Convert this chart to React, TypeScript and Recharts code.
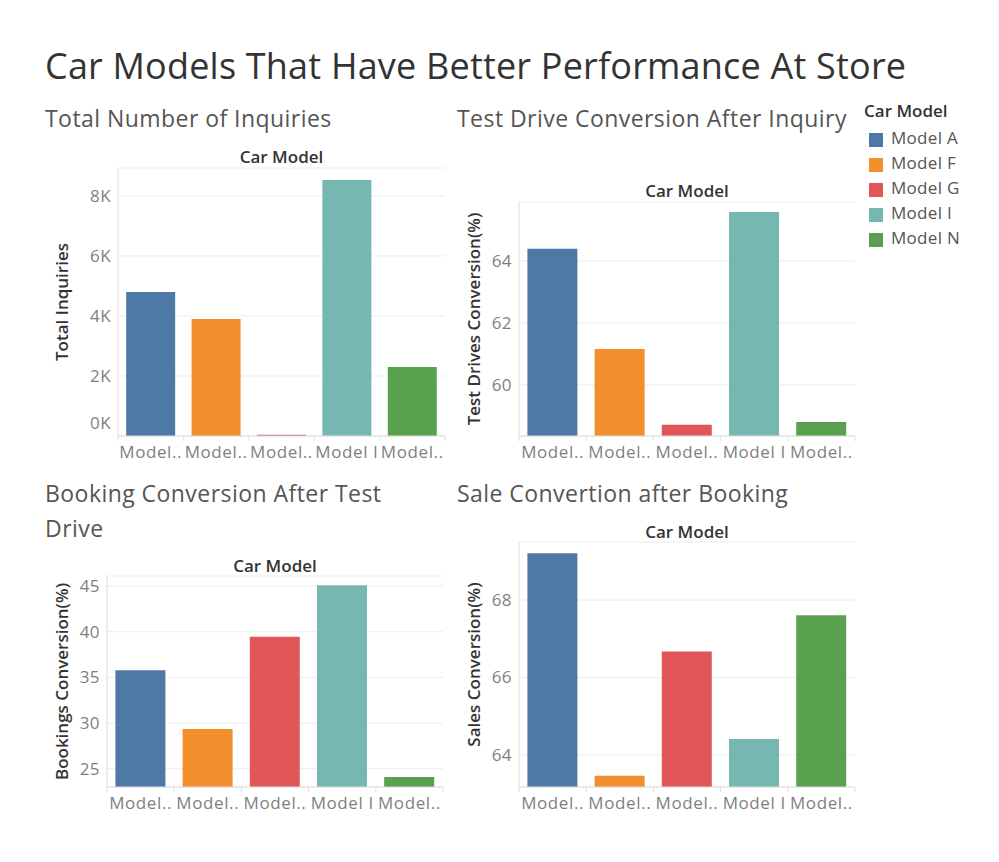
import React from 'react';
import { BarChart, Bar, XAxis, YAxis, CartesianGrid, Cell } from 'recharts';

const carModels = ['Model A', 'Model F', 'Model G', 'Model I', 'Model N'];
const xTickLabels = ['Model..', 'Model..', 'Model..', 'Model I', 'Model..'];
const modelColors = ['#4e79a7', '#f28e2b', '#e15759', '#76b7b2', '#59a14f'];

const totalInquiries = [4800, 3900, 40, 8530, 2300];
const testDriveConversion = [64.39, 61.16, 58.71, 65.58, 58.8];
const bookingConversion = [35.77, 29.34, 39.45, 45.1, 24.1];
const salesConversion = [69.21, 63.46, 66.67, 64.41, 67.61];

const inquiryTicks = [0, 2000, 4000, 6000, 8000];
const testDriveTicks = [60, 62, 64];
const bookingTicks = [25, 30, 35, 40, 45];
const salesTicks = [64, 66, 68];

const FONT = '"Open Sans", "Noto Sans", sans-serif';
const TICK_COLOR = '#7f7f7f';
const GRID_COLOR = '#ececec';
const AXIS_COLOR = '#dedede';

type PanelProps = {
  left: number;
  top: number;
  width: number;
  height: number;
  plotTop: number;
  plotRight: number;
  yAxisWidth: number;
  xAxisHeight: number;
  values: number[];
  domain: [number, number];
  ticks: number[];
  yLabel: string;
  yLabelX: number;
  tickFormat?: (v: number) => string;
};

const XTick = (props: any) => {
  const { x, y, payload, index } = props;
  const half = payload.offset ?? 0;
  const last = index === carModels.length - 1;
  return (
    <g>
      <line x1={x - half} x2={x - half} y1={y} y2={y + 5} stroke={AXIS_COLOR} />
      {last && <line x1={x + half} x2={x + half} y1={y} y2={y + 5} stroke={AXIS_COLOR} />}
      <text
        x={x}
        y={y + 22}
        textAnchor="middle"
        fill={TICK_COLOR}
        fontSize={17}
        letterSpacing={0.6}
        fontFamily={FONT}
      >
        {xTickLabels[index]}
      </text>
    </g>
  );
};

const Panel: React.FC<PanelProps> = (p) => {
  const data = carModels.map((model, i) => ({ model, value: p.values[i] }));
  const fmt = p.tickFormat ?? ((v: number) => String(v));

  const YTick = (props: any) => {
    const { x, y, payload } = props;
    // Tableau pushes the bottom-most label up so it stays inside the pane
    const shift = payload.value === p.domain[0] ? -13 : 0;
    return (
      <text
        x={x}
        y={y + 6 + shift}
        textAnchor="end"
        fill={TICK_COLOR}
        fontSize={17}
        letterSpacing={0.4}
        fontFamily={FONT}
      >
        {fmt(payload.value)}
      </text>
    );
  };

  const YLabel = (props: any) => {
    const vb = props.viewBox;
    const cx = vb.x + p.yLabelX;
    const cy = vb.y + vb.height / 2;
    return (
      <text
        transform={`translate(${cx},${cy}) rotate(-90)`}
        textAnchor="middle"
        dominantBaseline="central"
        fill="#333"
        fontSize={17}
        fontWeight={600}
        fontFamily={FONT}
      >
        {p.yLabel}
      </text>
    );
  };

  return (
    <div style={{ position: 'absolute', left: p.left, top: p.top }}>
      <BarChart
        width={p.width}
        height={p.height}
        data={data}
        margin={{ top: p.plotTop, right: p.plotRight, bottom: 0, left: 0 }}
        barCategoryGap="12.5%"
      >
        <CartesianGrid vertical={false} stroke={GRID_COLOR} />
        <XAxis
          dataKey="model"
          height={p.xAxisHeight}
          interval={0}
          tickLine={false}
          tickSize={0}
          tickMargin={0}
          axisLine={{ stroke: AXIS_COLOR }}
          tick={<XTick />}
        />
        <YAxis
          width={p.yAxisWidth}
          domain={p.domain}
          ticks={p.ticks}
          allowDataOverflow
          tickLine={false}
          tickSize={0}
          tickMargin={7}
          axisLine={{ stroke: AXIS_COLOR }}
          tick={<YTick />}
          label={{ content: <YLabel /> }}
        />
        <Bar dataKey="value" isAnimationActive={false}>
          {data.map((d, i) => (
            <Cell key={d.model} fill={modelColors[i]} />
          ))}
        </Bar>
      </BarChart>
    </div>
  );
};

const App: React.FC = () => {
  const sub = { fontSize: 23, fill: '#555', letterSpacing: 0.45 };
  const head = { fontSize: 17, fontWeight: 600, fill: '#333', textAnchor: 'middle' as const };
  return (
    <div
      style={{
        position: 'absolute',
        left: 0,
        top: 0,
        width: 999,
        height: 862,
        background: '#fff',
        fontFamily: FONT,
      }}
    >
      <Panel
        left={40}
        top={140}
        width={410}
        height={330}
        plotTop={28}
        plotRight={5}
        yAxisWidth={78}
        xAxisHeight={34}
        values={totalInquiries}
        domain={[0, 8930]}
        ticks={inquiryTicks}
        yLabel="Total Inquiries"
        yLabelX={21}
        tickFormat={(v) => `${v / 1000}K`}
      />
      <Panel
        left={455}
        top={170}
        width={410}
        height={300}
        plotTop={32}
        plotRight={10}
        yAxisWidth={64}
        xAxisHeight={34}
        values={testDriveConversion}
        domain={[58.35, 65.9]}
        ticks={testDriveTicks}
        yLabel="Test Drives Conversion(%)"
        yLabelX={18}
      />
      <Panel
        left={40}
        top={540}
        width={410}
        height={280}
        plotTop={36}
        plotRight={7}
        yAxisWidth={67}
        xAxisHeight={33}
        values={bookingConversion}
        domain={[23.0, 46.1]}
        ticks={bookingTicks}
        yLabel="Bookings Conversion(%)"
        yLabelX={21}
      />
      <Panel
        left={455}
        top={510}
        width={410}
        height={310}
        plotTop={32}
        plotRight={10}
        yAxisWidth={64}
        xAxisHeight={33}
        values={salesConversion}
        domain={[63.17, 69.5]}
        ticks={salesTicks}
        yLabel="Sales Conversion(%)"
        yLabelX={18}
      />

      {/* titles, pane headers and the colour legend */}
      <svg
        width={999}
        height={862}
        style={{ position: 'absolute', left: 0, top: 0, pointerEvents: 'none' }}
        fontFamily={FONT}
      >
        <text x={45} y={79} fontSize={36} letterSpacing={0.2} fill="#333">
          Car Models That Have Better Performance At Store
        </text>
        <text x={45} y={127} {...sub}>Total Number of Inquiries</text>
        <text x={457} y={127} {...sub}>Test Drive Conversion After Inquiry</text>
        <text x={45} y={502} {...sub}>Booking Conversion After Test</text>
        <text x={45} y={537} {...sub}>Drive</text>
        <text x={457} y={502} {...sub}>Sale Convertion after Booking</text>

        <text x={281.5} y={163} {...head}>Car Model</text>
        <text x={687} y={197} {...head}>Car Model</text>
        <text x={275} y={572} {...head}>Car Model</text>
        <text x={687} y={538} {...head}>Car Model</text>

        <text x={864} y={117} fontSize={17} fontWeight={600} fill="#333">Car Model</text>
        {carModels.map((m, i) => (
          <g key={m}>
            <rect x={869} y={133 + i * 25} width={14} height={14} fill={modelColors[i]} />
            <text x={891} y={143.5 + i * 25} fontSize={17} letterSpacing={0.3} fill="#555">
              {m}
            </text>
          </g>
        ))}
      </svg>
    </div>
  );
};

export default App;
